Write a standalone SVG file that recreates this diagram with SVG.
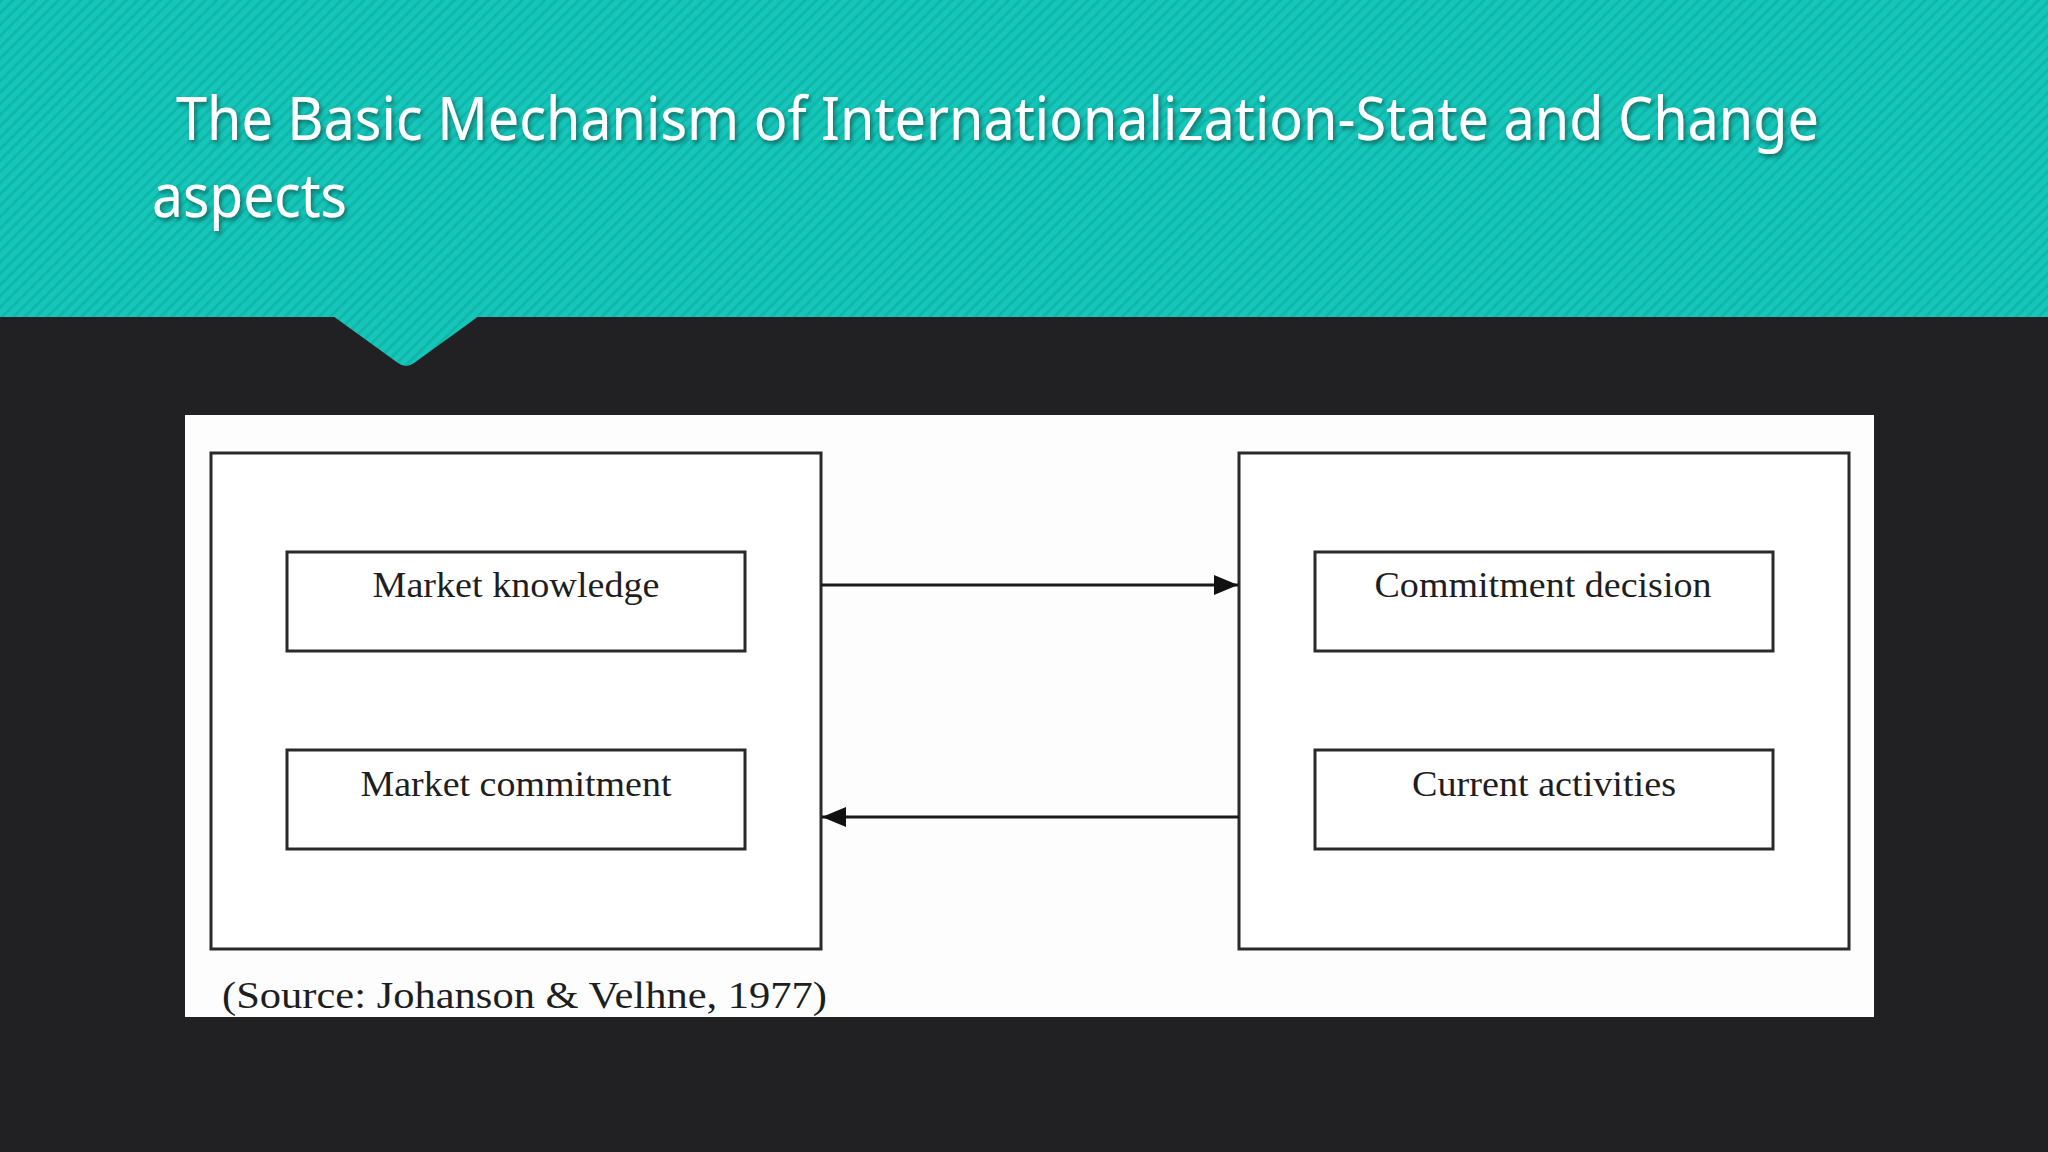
<svg xmlns="http://www.w3.org/2000/svg" width="2048" height="1152" viewBox="0 0 2048 1152">
  <defs>
    <pattern id="stripes" patternUnits="userSpaceOnUse" width="8" height="8" patternTransform="rotate(45)">
      <rect width="8" height="8" fill="#16c6b9"/>
      <rect width="3" height="8" fill="#0fb8ab"/>
    </pattern>
    <filter id="shadow" x="-5%" y="-20%" width="110%" height="150%">
      <feDropShadow dx="2" dy="3" stdDeviation="2" flood-color="#0a4a45" flood-opacity="0.7"/>
    </filter>
    <marker id="arrow" markerUnits="userSpaceOnUse" markerWidth="26" markerHeight="22" refX="24" refY="10" orient="auto">
      <path d="M0,0 L24,10 L0,20 Z" fill="#111"/>
    </marker>
  </defs>
  <style>
    .title { font-family: "Noto Sans", "Open Sans", sans-serif; font-size: 61px; fill: #ffffff; }
    .box { fill: #ffffff; stroke: #2a2a2a; stroke-width: 3; }
    .label { font-family: "Liberation Serif", serif; font-size: 35px; fill: #1e1e1e; text-anchor: middle; }
    .conn { stroke: #1a1a1a; stroke-width: 3; fill: none; }
  </style>

  <!-- background -->
  <rect width="2048" height="1152" fill="#212123"/>
  <rect width="2048" height="317" fill="url(#stripes)"/>
  <path d="M333,316 L479,316 L414,363 Q406,369 398,363 Z" fill="url(#stripes)"/>

  <!-- title -->
  <g id="title" filter="url(#shadow)">
    <text class="title" x="176" y="140" textLength="1643" lengthAdjust="spacingAndGlyphs">The Basic Mechanism of Internationalization-State and Change</text>
    <text class="title" x="152" y="217" textLength="195" lengthAdjust="spacingAndGlyphs">aspects</text>
  </g>

  <!-- white panel -->
  <rect x="185" y="415" width="1689" height="602" fill="#fdfdfd"/>

  <g id="state">
    <rect class="box" x="211" y="453" width="610" height="496"/>
    <g id="market-knowledge">
      <rect class="box" x="287" y="552" width="458" height="99"/>
      <text class="label" x="516" y="597" textLength="287" lengthAdjust="spacingAndGlyphs">Market knowledge</text>
    </g>
    <g id="market-commitment">
      <rect class="box" x="287" y="750" width="458" height="99"/>
      <text class="label" x="516" y="796" textLength="311" lengthAdjust="spacingAndGlyphs">Market commitment</text>
    </g>
  </g>

  <g id="change">
    <rect class="box" x="1239" y="453" width="610" height="496"/>
    <g id="commitment-decision">
      <rect class="box" x="1315" y="552" width="458" height="99"/>
      <text class="label" x="1543" y="597" textLength="337" lengthAdjust="spacingAndGlyphs">Commitment decision</text>
    </g>
    <g id="current-activities">
      <rect class="box" x="1315" y="750" width="458" height="99"/>
      <text class="label" x="1544" y="796" textLength="264" lengthAdjust="spacingAndGlyphs">Current activities</text>
    </g>
  </g>

  <g id="connectors">
    <line class="conn" x1="821" y1="585" x2="1238" y2="585" marker-end="url(#arrow)"/>
    <line class="conn" x1="1239" y1="817" x2="822" y2="817" marker-end="url(#arrow)"/>
  </g>

  <text id="source" x="222" y="1008" font-family="Liberation Serif, serif" font-size="37" fill="#1e1e1e" textLength="605" lengthAdjust="spacingAndGlyphs">(Source: Johanson &amp; Velhne, 1977)</text>
</svg>
